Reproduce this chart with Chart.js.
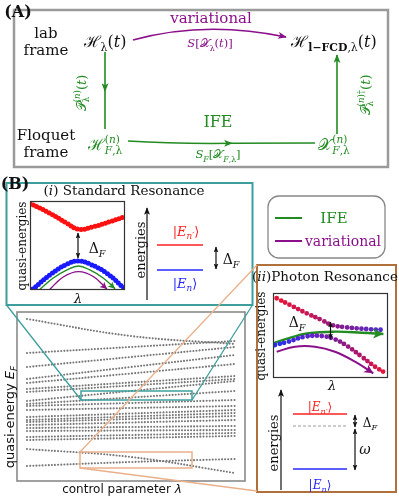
<!DOCTYPE html>
<html><head>
<meta charset="utf-8">
<title>Floquet CD driving: IFE vs variational</title>
<script src="https://cdn.jsdelivr.net/npm/chart.js@4"></script>
<style>
html, body { margin: 0; padding: 0; background: #fff; }
#fig { position: relative; width: 399px; height: 497px; overflow: hidden; font-family: "DejaVu Serif", serif; color: #111; }
.c { position: absolute; transform: translate(-50%, -50%); white-space: nowrap; line-height: 1; }
.rot { transform: translate(-50%, -50%) rotate(-90deg); }
.plot { position: absolute; }
.plot canvas { display: block; }
svg { position: absolute; left: 0; top: 0; }
sub, sup { font-size: 68%; line-height: 0; }
.ss { display: inline-block; vertical-align: middle; font-size: 66%; line-height: 1.05; text-align: left; }
.ss span { display: block; }
.g { color: #228b22; }
.p { color: #8a108a; }
.sans { font-family: "DejaVu Sans", sans-serif; }
</style></head><body>
<div id="fig">
  <div class="plot" style="left:17px;top:312px"><canvas id="spectrum" width="228" height="169"></canvas></div>
  <div class="plot" style="left:30px;top:201px"><canvas id="resI" width="95" height="89"></canvas></div>
  <div class="plot" style="left:273px;top:293px"><canvas id="resII" width="115" height="85"></canvas></div>

  <svg width="399" height="497" viewBox="0 0 399 497">
    <defs>
      <marker id="mk-g" viewBox="0 0 10 8" refX="9" refY="4" markerWidth="9" markerHeight="7" markerUnits="userSpaceOnUse" orient="auto-start-reverse"><path d="M0,0 L10,4 L0,8 L2.5,4 z" fill="#228b22"/></marker>
      <marker id="mk-p" viewBox="0 0 10 8" refX="9" refY="4" markerWidth="9" markerHeight="7" markerUnits="userSpaceOnUse" orient="auto-start-reverse"><path d="M0,0 L10,4 L0,8 L2.5,4 z" fill="#8a108a"/></marker>
      <marker id="mk-k" viewBox="0 0 10 8" refX="9" refY="4" markerWidth="8" markerHeight="6" markerUnits="userSpaceOnUse" orient="auto-start-reverse"><path d="M0,0 L10,4 L0,8 L2.5,4 z" fill="#111"/></marker>
      <marker id="mk-ks" viewBox="0 0 10 8" refX="9" refY="4" markerWidth="6" markerHeight="5" markerUnits="userSpaceOnUse" orient="auto-start-reverse"><path d="M0,0 L10,4 L0,8 L2,4 z" fill="#111"/></marker>
    </defs>
    <!-- panel A -->
    <rect x="14" y="10" width="374" height="157" fill="none" stroke="#9a9a9a" stroke-width="2.5"/>
    <path d="M133,40 Q205,20 286,37" fill="none" stroke="#8a108a" stroke-width="1.6" marker-end="url(#mk-p)"/>
    <path d="M105,52 L105,91 L105,129" fill="none" stroke="#228b22" stroke-width="1.6" marker-mid="url(#mk-g)"/>
    <path d="M337,134 L337,55" fill="none" stroke="#228b22" stroke-width="1.6" marker-end="url(#mk-g)"/>
    <path d="M128,141 Q175,144 232,143.3 L315,143" fill="none" stroke="#228b22" stroke-width="1.6" marker-mid="url(#mk-g)"/>
    <!-- panel B frames -->
    <rect x="6.5" y="183" width="246" height="122" fill="none" stroke="#3d9e9c" stroke-width="2"/>
    <rect x="268" y="196" width="117" height="62" rx="11" fill="none" stroke="#888" stroke-width="1.3"/>
    <rect x="257" y="265" width="139" height="227" fill="none" stroke="#b0703c" stroke-width="2"/>
    <rect x="17" y="312" width="228" height="169" fill="none" stroke="#8a8a8a" stroke-width="1.6"/>
    <rect x="30.5" y="201.5" width="94" height="88" fill="none" stroke="#333" stroke-width="1.2"/>
    <rect x="273.5" y="293.5" width="114" height="84" fill="none" stroke="#333" stroke-width="1.2"/>
    <!-- zoom markers -->
    <rect x="81" y="391" width="111" height="9" fill="none" stroke="#3d9e9c" stroke-width="1.5"/>
    <line x1="6.5" y1="305" x2="81" y2="400" stroke="#3d9e9c" stroke-width="1.3"/>
    <line x1="252.5" y1="305" x2="192" y2="400" stroke="#3d9e9c" stroke-width="1.3"/>
    <rect x="80" y="452" width="112" height="16" fill="none" stroke="#eab08a" stroke-width="1.5"/>
    <line x1="80" y1="452" x2="257" y2="265" stroke="#eab08a" stroke-width="1.3"/>
    <line x1="80" y1="468" x2="257" y2="491" stroke="#eab08a" stroke-width="1.3"/>
    <!-- legend -->
    <line x1="275" y1="218" x2="302" y2="218" stroke="#228b22" stroke-width="2"/>
    <line x1="275" y1="241" x2="302" y2="241" stroke="#8a108a" stroke-width="2"/>
    <!-- gaps and energy schemes -->
    <path d="M78,233 L78,258" stroke="#111" stroke-width="1.2" marker-start="url(#mk-ks)" marker-end="url(#mk-ks)"/>
    <path d="M147,300 L147,208" stroke="#111" stroke-width="1.2" marker-end="url(#mk-k)"/>
    <line x1="157" y1="245" x2="203" y2="245" stroke="#ff2020" stroke-width="1.5"/>
    <line x1="157" y1="270" x2="203" y2="270" stroke="#2828ff" stroke-width="1.5"/>
    <path d="M216,247 L216,269" stroke="#111" stroke-width="1.2" marker-start="url(#mk-ks)" marker-end="url(#mk-ks)"/>
    <path d="M330.5,322 L330.5,339" stroke="#111" stroke-width="1.2" marker-start="url(#mk-ks)" marker-end="url(#mk-ks)"/>
    <path d="M281,490 L281,390" stroke="#111" stroke-width="1.2" marker-end="url(#mk-k)"/>
    <line x1="293" y1="414" x2="347" y2="414" stroke="#ff2020" stroke-width="1.5"/>
    <line x1="293" y1="426" x2="347" y2="426" stroke="#999" stroke-width="1.2" stroke-dasharray="3 2"/>
    <line x1="293" y1="469" x2="347" y2="469" stroke="#2828ff" stroke-width="1.5"/>
    <path d="M355,415 L355,427" stroke="#111" stroke-width="1.2" marker-start="url(#mk-ks)" marker-end="url(#mk-ks)"/>
    <path d="M355,429 L355,470" stroke="#111" stroke-width="1.2" marker-start="url(#mk-ks)" marker-end="url(#mk-ks)"/>
  </svg>

  <!-- panel A text -->
  <div class="c" style="left:18px;top:12px;font-weight:bold;font-size:16px">(A)</div>
  <div class="c" style="left:46px;top:42px;font-size:15px;text-align:center;line-height:17px">lab<br>frame</div>
  <div class="c" style="left:105px;top:42px;font-size:16px">ℋ<sub>λ</sub>(<i>t</i>)</div>
  <div class="c p" style="left:211px;top:18px;font-size:15px">variational</div>
  <div class="c p" style="left:210px;top:44px;font-size:11.5px"><i>S</i>[𝒳<sub>λ</sub>(<i>t</i>)]</div>
  <div class="c" style="left:334px;top:42px;font-size:16px">ℋ<sub><b>l−FCD</b>,λ</sub>(<i>t</i>)</div>
  <div class="c rot g" style="left:82px;top:93px;font-size:13px">𝒫<span class="ss"><span>(<i>n</i>)</span><span>λ</span></span>(<i>t</i>)</div>
  <div class="c rot g" style="left:366px;top:95px;font-size:13px">𝒫<span class="ss"><span>(<i>n</i>)†</span><span>λ</span></span>(<i>t</i>)</div>
  <div class="c g" style="left:218px;top:122px;font-size:16px">IFE</div>
  <div class="c" style="left:46px;top:144px;font-size:15px;text-align:center;line-height:17px">Floquet<br>frame</div>
  <div class="c g" style="left:105px;top:145px;font-size:16px">ℋ<span class="ss"><span>(<i>n</i>)</span><span><i>F</i>,λ</span></span></div>
  <div class="c g" style="left:218px;top:155px;font-size:11.5px"><i>S<sub>F</sub></i>[𝒳<sub><i>F</i>,λ</sub>]</div>
  <div class="c g" style="left:334px;top:145px;font-size:16px">𝒳<span class="ss"><span>(<i>n</i>)</span><span><i>F</i>,λ</span></span></div>

  <!-- panel B text -->
  <div class="c" style="left:15px;top:184px;font-weight:bold;font-size:16px">(B)</div>
  <div class="c" style="left:124px;top:191px;font-size:13.5px">(<i>i</i>) Standard Resonance</div>
  <div class="c rot" style="left:22px;top:246px;font-size:12px">quasi-energies</div>
  <div class="c" style="left:97px;top:248px;font-size:14px">Δ<sub><i>F</i></sub></div>
  <div class="c" style="left:78px;top:298px;font-size:13px"><i>λ</i></div>
  <div class="c rot" style="left:140px;top:250px;font-size:13px">energies</div>
  <div class="c" style="left:186px;top:231px;font-size:13px;color:#ff2020">|<i>E<sub>n′</sub></i>⟩</div>
  <div class="c" style="left:185px;top:283px;font-size:13px;color:#2828ff">|<i>E<sub>n</sub></i>⟩</div>
  <div class="c" style="left:231px;top:259px;font-size:14px">Δ<sub><i>F</i></sub></div>
  <div class="c g" style="left:334px;top:218px;font-size:15px">IFE</div>
  <div class="c p" style="left:343px;top:241px;font-size:14px">variational</div>
  <div class="c" style="left:325px;top:277px;font-size:13.5px">(<i>ii</i>)Photon Resonance</div>
  <div class="c rot" style="left:261px;top:336px;font-size:12px">quasi-energies</div>
  <div class="c" style="left:297px;top:322px;font-size:14px">Δ<sub><i>F</i></sub></div>
  <div class="c" style="left:332px;top:385px;font-size:13px"><i>λ</i></div>
  <div class="c rot" style="left:273px;top:443px;font-size:13px">energies</div>
  <div class="c" style="left:320px;top:407px;font-size:12px;color:#ff2020">|<i>E<sub>n′</sub></i>⟩</div>
  <div class="c" style="left:320px;top:485px;font-size:12px;color:#2828ff">|<i>E<sub>n</sub></i>⟩</div>
  <div class="c" style="left:370px;top:423px;font-size:12px">Δ<sub><i>F</i></sub></div>
  <div class="c" style="left:365px;top:449px;font-size:14px"><i>ω</i></div>
  <div class="c rot sans" style="left:9px;top:417px;font-size:13px">quasi-energy <i>E<sub>F</sub></i></div>
  <div class="c sans" style="left:122px;top:489px;font-size:12px">control parameter <i>λ</i></div>
</div>
<script>
// Main Floquet spectrum: quasi-energy of each level read at lambda = 0, 0.5, 1
const LAMBDA_MAIN = [0, 0.5, 1];
const LEVELS = [
  [16.2, 14.5, 13.7],
  [12.8, 13.4, 14.0],
  [11.4, 12.4, 13.4],
  [10.2, 11.4, 12.6],
  [9.8, 10.75, 11.7],
  [9.2, 9.85, 10.5],
  [8.9, 9.55, 10.2],
  [8.0, 9.0, 10.0],
  [7.7, 8.35, 9.0],
  [7.5, 7.8, 8.1],
  [7.1, 7.3, 7.5],
  [6.4, 6.75, 7.1],
  [6.1, 6.45, 6.8],
  [5.9, 6.2, 6.5],
  [5.6, 5.85, 6.1],
  [5.3, 5.4, 5.5],
  [5.0, 5.05, 5.1],
  [4.4, 4.6, 4.8],
  [4.1, 4.3, 4.5],
  [3.2, 2.4, 0.8],
  [1.5, 1.9, 2.2],
];

// (i) standard resonance: quasi-energies vs lambda
const I_UPPER_X = [0, 0.21, 0.39, 0.51, 0.67, 0.84, 1.0];
const I_UPPER_Y = [0.974, 0.862, 0.749, 0.682, 0.711, 0.767, 0.824];
const I_LOWER_X = [0.03, 0.21, 0.39, 0.51, 0.63, 0.81, 1.0];
const I_LOWER_Y = [0.01, 0.169, 0.292, 0.326, 0.292, 0.188, 0.01];
const I_IFE_X = [0.105, 0.245, 0.39, 0.51, 0.63, 0.77, 0.895];
const I_IFE_Y = [0.01, 0.135, 0.225, 0.27, 0.225, 0.135, 0.015];
const I_VAR_X = [0.21, 0.35, 0.51, 0.67, 0.81];
const I_VAR_Y = [0.01, 0.146, 0.206, 0.149, 0.01];

// (ii) photon resonance
const II_UPPER_X = [0.032, 0.148, 0.293, 0.423, 0.51, 0.641, 0.815, 0.974];
const II_UPPER_Y = [0.938, 0.859, 0.761, 0.682, 0.624, 0.596, 0.576, 0.565];
const II_LOWER_X = [0.017, 0.133, 0.278, 0.423, 0.539, 0.655, 0.771, 0.887, 0.974];
const II_LOWER_Y = [0.388, 0.427, 0.486, 0.494, 0.455, 0.368, 0.251, 0.133, 0.062];
const II_IFE_X = [0.003, 0.133, 0.307, 0.539, 0.771, 0.96];
const II_IFE_Y = [0.408, 0.467, 0.526, 0.545, 0.533, 0.518];
const II_VAR_X = [0.032, 0.191, 0.365, 0.539, 0.713, 0.872];
const II_VAR_Y = [0.309, 0.368, 0.368, 0.309, 0.192, 0.055];

const GREEN = '#228b22';
const PURPLE = '#8a108a';

const zip = (xs, ys) => xs.map((x, i) => ({ x, y: ys[i] }));

function dotted(xs, ys, color, size, gap) {
  return {
    data: zip(xs, ys), showLine: true, borderColor: color, borderWidth: size,
    borderDash: [0, gap], borderCapStyle: 'round', pointRadius: 0, tension: 0.4,
  };
}
function solid(xs, ys, color, width, arrow) {
  return {
    data: zip(xs, ys), showLine: true, borderColor: color, borderWidth: width,
    pointRadius: 0, tension: 0.4, arrowSize: arrow,
  };
}
function gradient(stops) {
  return ctx => {
    const { chart } = ctx;
    const area = chart.chartArea;
    if (!area) return stops[0][1];
    const g = chart.ctx.createLinearGradient(area.left, 0, area.right, 0);
    stops.forEach(s => g.addColorStop(s[0], s[1]));
    return g;
  };
}

// arrow heads at the end of the IFE / variational paths
const arrowHeads = {
  id: 'arrowHeads',
  afterDatasetsDraw(chart) {
    const c = chart.ctx;
    chart.data.datasets.forEach((ds, i) => {
      if (!ds.arrowSize) return;
      const pts = chart.getDatasetMeta(i).data;
      const p = pts[pts.length - 1];
      const q = p.cp1x !== undefined ? { x: p.cp1x, y: p.cp1y } : pts[pts.length - 2];
      const a = Math.atan2(p.y - q.y, p.x - q.x);
      const s = ds.arrowSize;
      c.save();
      c.fillStyle = ds.borderColor;
      c.translate(p.x, p.y);
      c.rotate(a);
      c.beginPath();
      c.moveTo(0, 0);
      c.lineTo(-s, -s * 0.5);
      c.lineTo(-s * 0.75, 0);
      c.lineTo(-s, s * 0.5);
      c.closePath();
      c.fill();
      c.restore();
    });
  }
};

function baseOptions(xmin, xmax, ymin, ymax) {
  return {
    responsive: false, animation: false, events: [],
    layout: { padding: 0 },
    plugins: { legend: { display: false }, tooltip: { enabled: false } },
    scales: {
      x: { type: 'linear', display: false, min: xmin, max: xmax },
      y: { type: 'linear', display: false, min: ymin, max: ymax },
    },
  };
}

new Chart(document.getElementById('spectrum'), {
  type: 'scatter',
  data: { datasets: LEVELS.map(lv => dotted(LAMBDA_MAIN, lv, '#777777', 2.1, 3.1)) },
  options: baseOptions(-0.048, 1.048, 0, 16.9),
});

new Chart(document.getElementById('resI'), {
  type: 'scatter',
  data: { datasets: [
    dotted(I_UPPER_X, I_UPPER_Y, '#ff1010', 5, 3.6),
    dotted(I_LOWER_X, I_LOWER_Y, '#1a1aff', 5, 3.6),
    solid(I_IFE_X, I_IFE_Y, GREEN, 1.4, 7),
    solid(I_VAR_X, I_VAR_Y, PURPLE, 1.4, 7),
  ] },
  options: baseOptions(0, 1, 0, 1),
  plugins: [arrowHeads],
});

new Chart(document.getElementById('resII'), {
  type: 'scatter',
  data: { datasets: [
    Object.assign(dotted(II_UPPER_X, II_UPPER_Y, '#e8173a', 4.8, 4.8),
      { borderColor: gradient([[0, '#ee1133'], [0.35, '#c0185a'], [0.55, '#8a1a8a'], [1, '#4a30d8']]) }),
    Object.assign(dotted(II_LOWER_X, II_LOWER_Y, '#2030f0', 4.8, 4.8),
      { borderColor: gradient([[0, '#2030f0'], [0.4, '#6a20c0'], [0.6, '#8a1a8a'], [1, '#ee1535']]) }),
    solid(II_IFE_X, II_IFE_Y, GREEN, 2.4, 10),
    solid(II_VAR_X, II_VAR_Y, PURPLE, 2, 9),
  ] },
  options: baseOptions(0, 1, 0, 1),
  plugins: [arrowHeads],
});
</script>
</body></html>
